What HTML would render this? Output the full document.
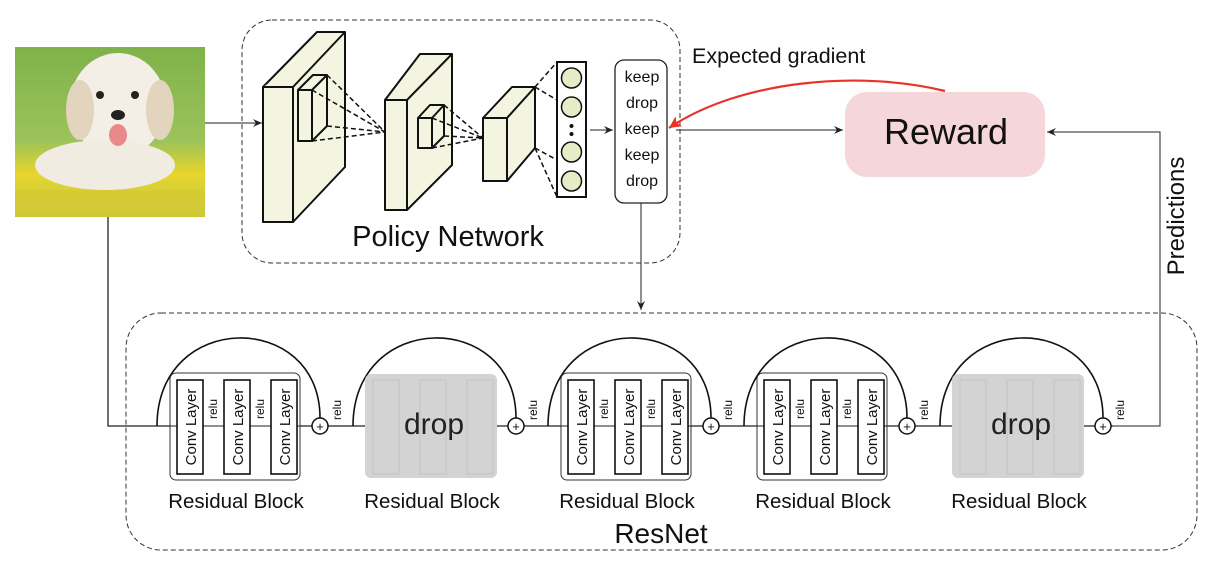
<!DOCTYPE html>
<html><head><meta charset="utf-8"><style>
body{margin:0;background:#fff;}
svg{display:block;font-family:"Liberation Sans",sans-serif;}
</style></head><body>
<svg width="1226" height="563" viewBox="0 0 1226 563" xmlns="http://www.w3.org/2000/svg">
<defs>
<marker id="a" markerWidth="10" markerHeight="10" refX="9" refY="5" orient="auto" markerUnits="userSpaceOnUse"><path d="M0,1 L9,5 L0,9 L3,5 Z" fill="#222"/></marker>
<marker id="r" markerWidth="14" markerHeight="14" refX="12" refY="7" orient="auto" markerUnits="userSpaceOnUse"><path d="M0,1 L12,7 L0,13 L3,7 Z" fill="#e8332a"/></marker>
<linearGradient id="dg" x1="0" y1="0" x2="0" y2="1">
<stop offset="0" stop-color="#7fb24a"/><stop offset="0.55" stop-color="#9cc35a"/><stop offset="0.75" stop-color="#e8d52c"/><stop offset="1" stop-color="#b9c94a"/></linearGradient>
</defs>
<rect x="15" y="47" width="190" height="170" fill="url(#dg)"/>
<ellipse cx="118" cy="105" rx="48" ry="52" fill="#f4efe6"/>
<ellipse cx="80" cy="110" rx="14" ry="30" fill="#e2d4bd"/>
<ellipse cx="160" cy="110" rx="14" ry="30" fill="#e2d4bd"/>
<ellipse cx="105" cy="165" rx="70" ry="25" fill="#f1ece2"/>
<ellipse cx="118" cy="135" rx="9" ry="11" fill="#e88a8a"/>
<circle cx="100" cy="95" r="4" fill="#222"/><circle cx="135" cy="95" r="4" fill="#222"/>
<ellipse cx="118" cy="115" rx="7" ry="5" fill="#222"/>
<rect x="15" y="190" width="190" height="27" fill="#d9c930" opacity="0.7"/>
<rect x="242" y="20" width="438" height="243" rx="30" fill="none" stroke="#333" stroke-dasharray="5,3"/>
<line x1="205" y1="123" x2="262" y2="123" stroke="#222" marker-end="url(#a)"/>
<g stroke="#111" stroke-width="2" fill="#f3f5e0" stroke-linejoin="round">
<path d="M263,87 L317,32 L345,32 L345,167 L293,222 L293,87 Z"/><path d="M263,87 L293,87 L345,32"/>
<rect x="263" y="87" width="30" height="135"/>
<path d="M298,90 L313,75 L327,75 L327,126 L312,141 L312,90 Z M312,90 L327,75"/><rect x="298" y="90" width="14" height="51"/>
<path d="M385,100 L420,54 L452,54 L452,165 L407,210 L407,100 Z M407,100 L452,54"/><rect x="385" y="100" width="22" height="110"/>
<path d="M418,118 L430,105 L444,105 L444,136 L432,148 L432,118 Z M432,118 L444,105"/><rect x="418" y="118" width="14" height="30"/>
<path d="M483,118 L512,87 L535,87 L535,148 L507,181 L507,118 Z M507,118 L535,87"/><rect x="483" y="118" width="24" height="63"/>
</g>
<g stroke="#111" stroke-width="1.5" stroke-dasharray="5,3" fill="none">
<path d="M327,75 L385,132 M327,126 L385,132 M312,90 L385,132 M312,141 L385,132"/>
<path d="M444,105 L483,138 M444,136 L483,138 M432,118 L483,138 M432,148 L483,138"/>
<path d="M535,87 L557,100 M535,87 L557,62 M535,148 L557,160 M535,148 L557,197"/>
</g>
<rect x="557" y="62" width="29" height="135" fill="#fff" stroke="#111" stroke-width="2"/>
<g fill="#e8ecc6" stroke="#111" stroke-width="1.5">
<circle cx="571.5" cy="78" r="10"/><circle cx="571.5" cy="107" r="10"/><circle cx="571.5" cy="152" r="10"/><circle cx="571.5" cy="181" r="10"/></g>
<circle cx="571.5" cy="126" r="2" fill="#111"/><circle cx="571.5" cy="134" r="2" fill="#111"/>
<line x1="590" y1="130" x2="613" y2="130" stroke="#222" marker-end="url(#a)"/>
<rect x="615" y="60" width="52" height="143" rx="9" fill="#fff" stroke="#222" stroke-width="1.3"/>
<g font-size="16" fill="#111" text-anchor="middle"><text x="642" y="82">keep</text><text x="642" y="108">drop</text><text x="642" y="134">keep</text><text x="642" y="160">keep</text><text x="642" y="186">drop</text></g>
<text x="448" y="246" font-size="29" fill="#111" text-anchor="middle">Policy Network</text>
<text x="692" y="63" font-size="21.5" fill="#111">Expected gradient</text>
<rect x="845" y="92" width="200" height="85" rx="22" fill="#f5d6d9"/>
<text x="946" y="144" font-size="36" fill="#111" text-anchor="middle">Reward</text>
<path d="M945,91 C860,70 740,80 669,128" fill="none" stroke="#e8332a" stroke-width="2.2" marker-end="url(#r)"/>
<line x1="676" y1="130" x2="843" y2="130" stroke="#222" marker-end="url(#a)"/>
<line x1="641" y1="203" x2="641" y2="310" stroke="#222" marker-end="url(#a)"/>
<polyline points="1113,426 1160,426 1160,132 1047,132" fill="none" stroke="#222" marker-end="url(#a)"/>
<text transform="translate(1184,216) rotate(-90)" font-size="24" fill="#111" text-anchor="middle">Predictions</text>
<rect x="126" y="313" width="1071" height="237" rx="35" fill="none" stroke="#333" stroke-dasharray="5,3"/>
<polyline points="108,217 108,426 1113,426" fill="none" stroke="#222" stroke-width="1.3"/>
<text x="661" y="543" font-size="28" fill="#111" text-anchor="middle">ResNet</text>
<g id="blk">
<path d="M157,426 C157,310 320,310 320,418" fill="none" stroke="#111" stroke-width="1.6"/>
<rect x="170" y="373" width="130" height="107" rx="6" fill="#fff" stroke="#333"/>
<line x1="165" y1="426" x2="310" y2="426" stroke="#222"/>
<g fill="#fff" stroke="#111" stroke-width="1.6"><rect x="177" y="380" width="26" height="94"/><rect x="224" y="380" width="26" height="94"/><rect x="271" y="380" width="26" height="94"/></g>
<g font-size="15" fill="#111" text-anchor="middle"><text transform="translate(196,427) rotate(-90)">Conv Layer</text><text transform="translate(243,427) rotate(-90)">Conv Layer</text><text transform="translate(290,427) rotate(-90)">Conv Layer</text>
<text transform="translate(217,409) rotate(-90)" font-size="12">relu</text><text transform="translate(264,409) rotate(-90)" font-size="12">relu</text></g>
<circle cx="320" cy="426" r="8" fill="#fff" stroke="#111" stroke-width="1.5"/>
<text x="320" y="431" font-size="13" text-anchor="middle" fill="#111">+</text>
<text transform="translate(341,410) rotate(-90)" font-size="12" text-anchor="middle" fill="#111">relu</text>
<text x="236" y="508" font-size="20.5" fill="#111" text-anchor="middle">Residual Block</text>
</g>
<use href="#blk" x="391"/>
<use href="#blk" x="587"/>
<g id="dblk" transform="translate(196,0)">
<path d="M157,426 C157,310 320,310 320,418" fill="none" stroke="#111" stroke-width="1.6"/>
<rect x="169" y="374" width="132" height="104" rx="6" fill="#d3d3d3"/>
<g fill="none" stroke="#c3c3c3"><rect x="177" y="380" width="26" height="94"/><rect x="224" y="380" width="26" height="94"/><rect x="271" y="380" width="26" height="94"/></g>
<text x="238" y="434" font-size="30" fill="#222" text-anchor="middle">drop</text>
<circle cx="320" cy="426" r="8" fill="#fff" stroke="#111" stroke-width="1.5"/>
<text x="320" y="431" font-size="13" text-anchor="middle" fill="#111">+</text>
<text transform="translate(341,410) rotate(-90)" font-size="12" text-anchor="middle" fill="#111">relu</text>
<text x="236" y="508" font-size="20.5" fill="#111" text-anchor="middle">Residual Block</text>
</g>
<use href="#dblk" x="587"/>
</svg>
</body></html>
